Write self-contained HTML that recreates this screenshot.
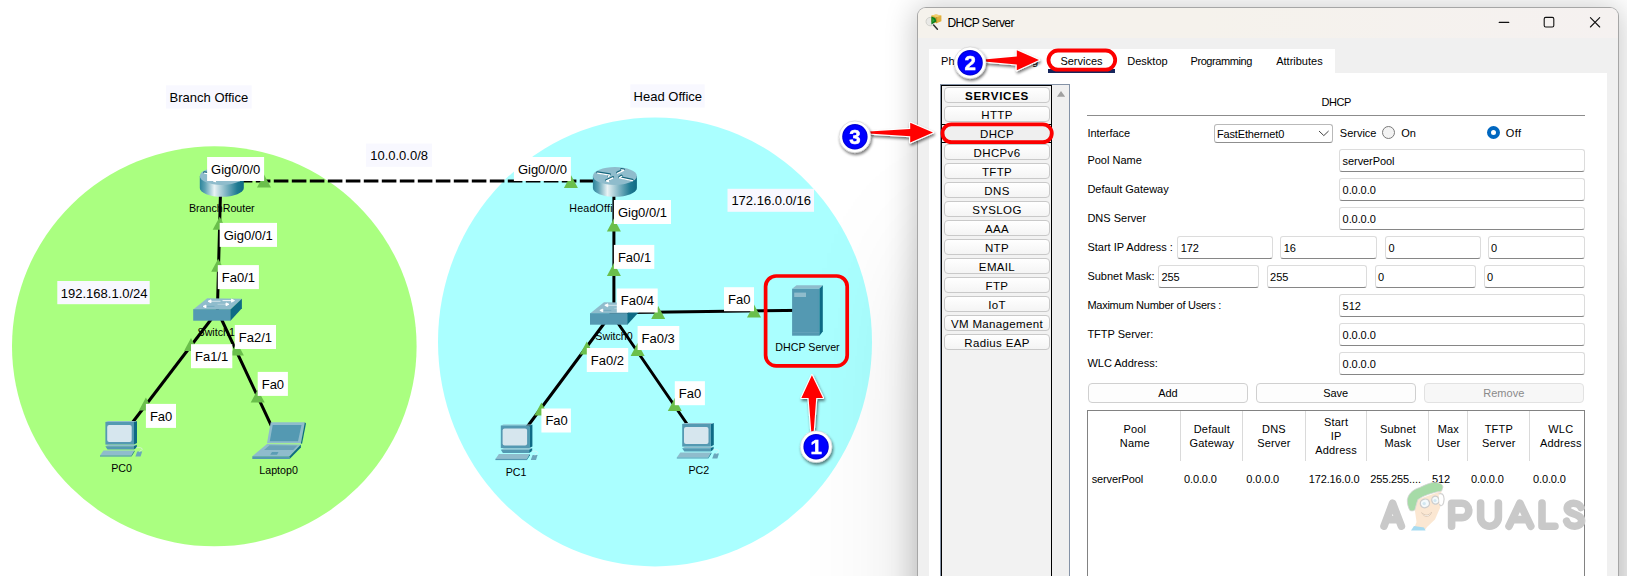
<!DOCTYPE html>
<html><head><meta charset="utf-8"><title>DHCP Server</title>
<style>
html,body{margin:0;padding:0;background:#fff;}
body{width:1627px;height:576px;overflow:hidden;position:relative;font-family:"Liberation Sans",sans-serif;}
svg{position:absolute;left:0;top:0;}
svg text{font-family:"Liberation Sans",sans-serif;}
.win{position:absolute;left:917px;top:7px;width:701px;height:620px;background:#f0f0f0;border:1px solid #a9a9a9;border-radius:8px;box-sizing:border-box;box-shadow:0 6px 38px 4px rgba(0,0,0,0.27),0 0 3px rgba(0,0,0,0.15);overflow:hidden;}
.abs{position:absolute;}
.t11{font-size:11px;color:#000;white-space:nowrap;line-height:13px;}
.inp{position:absolute;height:22.8px;box-sizing:border-box;background:#fff;border:1px solid #dcdcdc;border-bottom:1px solid #868686;border-radius:3px;font-size:11px;line-height:23.6px;letter-spacing:-0.08px;padding-left:2.5px;color:#000;}
.btn{position:absolute;height:20px;box-sizing:border-box;background:#fdfdfd;border:1px solid #d0d0d0;border-radius:4px;font-size:11px;line-height:19px;text-align:center;color:#000;}
.sv{position:absolute;left:26px;width:106px;height:16px;box-sizing:border-box;border:1px solid #c9c9c9;border-radius:4px;background:linear-gradient(#ffffff,#f4f4f4);font-size:11.5px;line-height:17.8px;text-align:center;color:#000;letter-spacing:0.35px;}
.th{position:absolute;top:0;height:50px;box-sizing:border-box;border-right:1px solid #dadada;font-size:11px;line-height:14.1px;text-align:center;display:flex;align-items:center;justify-content:center;color:#000;letter-spacing:0.2px;}
.td{position:absolute;top:66px;font-size:11px;line-height:13px;color:#000;white-space:nowrap;letter-spacing:-0.12px;}
</style></head><body>

<svg width="1627" height="576" viewBox="0 0 1627 576">
<defs>
<linearGradient id="rb" x1="0" x2="1" y1="0" y2="0">
<stop offset="0" stop-color="#2b849b"/><stop offset="0.12" stop-color="#5fa3b5"/><stop offset="0.33" stop-color="#e9f3f5"/><stop offset="0.6" stop-color="#7db3c2"/><stop offset="0.85" stop-color="#1f7a92"/><stop offset="1" stop-color="#0e6a82"/>
</linearGradient>
<g id="router">
<path d="M-22 0 L-22 12 A22 8.8 0 0 0 22 12 L22 0 Z" fill="url(#rb)"/>
<ellipse cx="0" cy="0" rx="22" ry="9" fill="#8fbccc"/>
<g stroke="#14657c" stroke-width="2.4" fill="none" stroke-linecap="round" stroke-linejoin="round">
<path d="M-17.5 -3.6 L-5 -1.6 L-6.5 0"/><path d="M4.5 1.2 L17.5 3.9 M6.5 -0.2 L4.5 1.2"/><path d="M2.5 -3.4 L9 -6.4 L6.5 -6.8"/><path d="M-8.5 4.3 L-2 1.3 M-8.5 4.3 L-6 4.8"/>
</g>
<g stroke="#ffffff" stroke-width="1.4" fill="none" stroke-linecap="round" stroke-linejoin="round">
<path d="M-17.5 -2.9 L-5 -0.9 L-6.5 0.7"/><path d="M4.5 1.9 L17.5 4.6 M6.5 0.5 L4.5 1.9"/><path d="M2.5 -2.7 L9 -5.7 L6.5 -6.1"/><path d="M-8.5 5 L-2 2 M-8.5 5 L-6 5.5"/>
</g>
</g>
<g id="switch">
<path d="M-24.3 0 L-10.3 -11.4 L24.4 -10.9 L13 0 Z" fill="#8fbccc"/>
<rect x="-24.3" y="-0.4" width="37.6" height="11.5" fill="#5499b2"/>
<path d="M13 0 L24.4 -10.9 L24.4 -1.4 L13 11.1 Z" fill="#0e6a85"/>
<g stroke="#fff" stroke-width="0.9" fill="#fff">
<path d="M-9 -8.3 L3 -8.3" stroke="#dbe9ee"/><path d="M5 -9 L16 -9"/><path d="M-15 -3.2 L-3 -3.2" stroke="#6fa9bd"/><path d="M0 -5.3 L10 -5.3" stroke="#b5d2dc"/>
<path d="M-9.5 -8.3 l3 -1.5 l0 3 z"/><path d="M17 -9 l-3 -1.6 l0 3.2 z"/><path d="M-14.5 -3.2 l3 -1.3 l0 2.6 z"/><path d="M11.5 -5.3 l-3 -1.4 l0 2.8 z"/>
</g>
</g>
<g id="pc">
<path d="M13 -16 L16 -17 L16 5 L13 6.6 Z" fill="#0e6a85"/>
<path d="M-15.6 -16 L-13 -17 L16 -17 L13 -16 Z" fill="#8fbccc"/>
<rect x="-15.6" y="-16" width="28.6" height="22.6" fill="#5499b2"/>
<rect x="-13.8" y="-13.1" width="24.5" height="17.2" rx="2" fill="#d6e6ee"/>
<path d="M-15.6 8.2 L-12.6 6.8 L15.8 6.8 L12.8 8.2 Z" fill="#8fbccc"/>
<path d="M-15.6 8.2 L12.8 8.2 L12.8 11.4 L-13.5 11.4 Z" fill="#5499b2"/>
<path d="M12.8 8.2 L15.8 6.8 L15.8 9.4 L12.8 11.4 Z" fill="#0e6a85"/>
<path d="M-17.5 12.6 L13.5 12.6 L10.5 17.4 L-21 17.4 Z" fill="#8fbccc"/>
<path d="M-21 17.4 L10.5 17.4 L10.5 18.6 L-21 18.6 Z" fill="#5499b2"/>
<path d="M10.5 17.4 L13.5 12.6 L13.5 13.8 L10.5 18.6 Z" fill="#0e6a85"/>
<path d="M16.2 13.4 L21.2 13.4 L19.6 18.6 L14.4 18.6 Z" fill="#6aa6bb"/>
<path d="M18.5 14.2 C19 11.5 22.5 12.5 21 10.5 C19.5 9 16 10 15 9.5" fill="none" stroke="#e6f0f4" stroke-width="0.6"/>
</g>
<g id="laptop">
<path d="M-7.3 -17.7 L26.8 -17.7 L22.9 3.2 L-11 3.2 Z" fill="#8fbccc"/>
<path d="M26.8 -17.7 L28 -16.5 L24 4 L22.9 3.2 Z" fill="#0e6a85"/>
<path d="M-5.3 -15.1 L23.5 -15.1 L20 1.2 L-8.2 1.2 Z" fill="#5499b2"/>
<path d="M-11 4 L22.9 4.6 L11.6 16.2 L-25.7 16.2 Z" fill="#8fbccc"/>
<path d="M-8.5 5.2 L19.5 5.6 L15.2 10 L-14 10 Z" fill="#6aa3b8"/>
<path d="M-25.7 16.2 L11.6 16.2 L11.6 19 L-25.7 19 Z" fill="#5499b2"/>
<path d="M11.6 16.2 L22.9 4.6 L22.9 7.5 L11.6 19 Z" fill="#0e6a85"/>
<path d="M-6 12 L0.5 12 L-1 14.8 L-7.8 14.8 Z" fill="#5a9db4"/>
</g>
<g id="server">
<path d="M-15.3 -21.8 L-10.9 -25.3 L15.4 -25.3 L12 -21.8 Z" fill="#8fbccc"/>
<rect x="-15.3" y="-21.8" width="27.3" height="46.9" fill="#5499b2"/>
<path d="M12 -21.8 L15.4 -25.3 L15.4 21 L12 25.1 Z" fill="#0e6a85"/>
<rect x="-13.2" y="-18" width="11.8" height="4.4" fill="#8fbccc"/>
<path d="M-15.3 21.9 L12 21.9" stroke="#67a5bb" stroke-width="0.7"/>
</g>
<path id="tri" d="M0 0 L7 13 L-7 13 Z" fill="#6abf4b"/>
</defs>
<ellipse cx="214.3" cy="346.3" rx="202.3" ry="200" fill="#aaff80"/>
<ellipse cx="655" cy="341.9" rx="217" ry="224.5" fill="#aaffff"/>
<rect x="166" y="85.3" width="85.7" height="23.3" fill="#f8f8ff"/>
<text x="169.6" y="101.8" font-size="13">Branch Office</text>
<rect x="630.3" y="84.3" width="74.4" height="23.3" fill="#f8f8ff"/>
<text x="633.6" y="100.8" font-size="13">Head Office</text>
<rect x="366" y="143.6" width="66" height="23.2" fill="#f8f8ff"/>
<text x="370.2" y="160.2" font-size="13">10.0.0.0/8</text>
<rect x="57.3" y="281" width="92.4" height="23.2" fill="#f8f8ff"/>
<text x="60.8" y="297.6" font-size="13">192.168.1.0/24</text>
<rect x="727.5" y="188.8" width="86.5" height="23" fill="#f8f8ff"/>
<text x="731.4" y="204.9" font-size="13">172.16.0.0/16</text>
<text x="221.8" y="211.6" font-size="10.67" text-anchor="middle">BranchRouter</text>
<text x="613.4" y="211.7" font-size="10.67" text-anchor="middle" letter-spacing="0.2">HeadOfficeRouter</text>
<text x="216.2" y="336.3" font-size="10.67" text-anchor="middle">Switch1</text>
<text x="614" y="339.8" font-size="10.67" text-anchor="middle">Switch0</text>
<text x="121.6" y="471.6" font-size="10.67" text-anchor="middle">PC0</text>
<text x="278.6" y="473.7" font-size="10.67" text-anchor="middle">Laptop0</text>
<text x="516" y="475.5" font-size="10.67" text-anchor="middle">PC1</text>
<text x="698.8" y="473.5" font-size="10.67" text-anchor="middle">PC2</text>
<text x="807.5" y="350.7" font-size="10.67" text-anchor="middle">DHCP Server</text>
<g stroke="#000" stroke-width="3" stroke-linecap="round" fill="none">
<path d="M221.8 181 L615 181" stroke-dasharray="14.6 3.4" stroke-dashoffset="2" stroke-linecap="butt" stroke-linejoin="round"/>
<path d="M220.8 181 L217.4 310"/>
<path d="M217.5 311 L121 437.5"/>
<path d="M217.6 311 L278 440"/>
<path d="M613.9 181 L613.9 313"/>
<path d="M613 312.7 L807 310.2"/>
<path d="M613 311.5 L516.7 441"/>
<path d="M611 313 L698 440"/>
</g>
<use href="#router" x="221.8" y="176"/>
<use href="#router" x="614.9" y="176"/>
<use href="#switch" x="217.5" y="309.6"/>
<use href="#switch" x="614.3" y="313.6"/>
<use href="#pc" x="121" y="438"/>
<use href="#pc" x="516.4" y="441.5"/>
<use href="#pc" x="697.8" y="440"/>
<use href="#laptop" x="278" y="440"/>
<use href="#server" x="807.4" y="310.6"/>
<use href="#tri" x="264" y="174.6"/>
<use href="#tri" x="570.9" y="175"/>
<use href="#tri" x="219.7" y="216.8"/>
<use href="#tri" x="218.2" y="258.8"/>
<use href="#tri" x="236.9" y="342.6"/>
<use href="#tri" x="191" y="337.9"/>
<use href="#tri" x="257.7" y="389.5"/>
<use href="#tri" x="145.9" y="397.5"/>
<use href="#tri" x="613.9" y="218.5"/>
<use href="#tri" x="613.9" y="263"/>
<use href="#tri" x="658.2" y="306"/>
<use href="#tri" x="754" y="304.6"/>
<use href="#tri" x="637.6" y="343"/>
<use href="#tri" x="586.8" y="341.5"/>
<use href="#tri" x="541.4" y="402.6"/>
<use href="#tri" x="674.8" y="398"/>
<rect x="207.1" y="157" width="57" height="24" fill="#fff"/>
<text x="211.1" y="173.8" font-size="13">Gig0/0/0</text>
<rect x="219.7" y="222.9" width="57.3" height="24" fill="#fff"/>
<text x="223.7" y="239.7" font-size="13">Gig0/0/1</text>
<rect x="217.8" y="265.1" width="41.1" height="24" fill="#fff"/>
<text x="221.8" y="281.9" font-size="13">Fa0/1</text>
<rect x="234.8" y="325" width="41.2" height="24" fill="#fff"/>
<text x="238.8" y="341.8" font-size="13">Fa2/1</text>
<rect x="191" y="344.2" width="41.3" height="24" fill="#fff"/>
<text x="195" y="361.0" font-size="13">Fa1/1</text>
<rect x="257.7" y="371.9" width="30.2" height="24" fill="#fff"/>
<text x="261.7" y="388.7" font-size="13">Fa0</text>
<rect x="145.9" y="403.9" width="30.1" height="24" fill="#fff"/>
<text x="149.9" y="420.7" font-size="13">Fa0</text>
<rect x="513.9" y="157" width="57" height="24" fill="#fff"/>
<text x="517.9" y="173.8" font-size="13">Gig0/0/0</text>
<rect x="613.9" y="200" width="57.1" height="24" fill="#fff"/>
<text x="617.9" y="216.8" font-size="13">Gig0/0/1</text>
<rect x="613.9" y="244.9" width="40.4" height="24" fill="#fff"/>
<text x="617.9" y="261.7" font-size="13">Fa0/1</text>
<rect x="616.8" y="288.5" width="40.9" height="24" fill="#fff"/>
<text x="620.8" y="305.3" font-size="13">Fa0/4</text>
<rect x="724" y="287.2" width="30" height="24" fill="#fff"/>
<text x="728" y="304.0" font-size="13">Fa0</text>
<rect x="637.6" y="326" width="41.7" height="24" fill="#fff"/>
<text x="641.6" y="342.8" font-size="13">Fa0/3</text>
<rect x="586.8" y="348" width="41.4" height="24" fill="#fff"/>
<text x="590.8" y="364.8" font-size="13">Fa0/2</text>
<rect x="541.4" y="408.5" width="29.5" height="24" fill="#fff"/>
<text x="545.4" y="425.3" font-size="13">Fa0</text>
<rect x="674.8" y="381.2" width="30.1" height="24" fill="#fff"/>
<text x="678.8" y="398.0" font-size="13">Fa0</text>
</svg><div class="win" style="left:918px;top:8px;width:700px;height:600px;border:none;box-shadow:0 0 0 1px #a6a6a6,0 2px 30px 3px rgba(0,0,0,0.22),0 220px 130px -40px rgba(0,0,0,0.26);">
<div class="abs" style="left:0;top:0;width:700px;height:29.5px;background:linear-gradient(90deg,#f5f2ec 0%,#f5f2ec 40%,#f5f1f0 100%);"></div>
<svg class="abs" style="left:6px;top:4px;" width="22" height="22" viewBox="0 0 22 22">
<circle cx="6.2" cy="9.6" r="4.2" fill="#e9e9e6" stroke="#c9c9c4" stroke-width="0.8"/>
<path d="M9.6 13 L13.4 17.3" stroke="#333" stroke-width="1.5" stroke-linecap="round"/>
<path d="M7.4 3.6 L12 2.4 L17.4 3.4 L17.4 9.2 L12.6 11.2 L7.4 10 Z" fill="#e0b040"/>
<path d="M7.4 3.6 L12.6 5.2 L17.4 3.4 L12 2.4 Z" fill="#f2d070"/>
<path d="M12.6 5.2 L12.6 11.2" stroke="#a87c20" stroke-width="0.6"/>
<path d="M7.4 4.6 L11.4 6 L12.4 9.6 L7.4 12.4 Z" fill="#0b7d1c"/><path d="M8.4 6 L10.6 8.4 L8.4 10.6 Z" fill="#2fae3c"/>
</svg>
<div class="abs" style="left:29.5px;top:7.5px;font-size:12px;line-height:14px;letter-spacing:-0.55px;color:#000;white-space:nowrap;">DHCP Server</div>
<svg class="abs" style="left:570px;top:0;" width="130" height="30" viewBox="0 0 130 30">
<g stroke="#111" stroke-width="1.1" fill="none" stroke-linecap="round">
<path d="M11.2 14.4 L20.8 14.4"/>
<rect x="56.2" y="9.4" width="9.6" height="9.6" rx="1.5"/>
<path d="M102.4 9.7 L111.7 19 M111.7 9.7 L102.4 19"/>
</g></svg>
<div class="abs" style="left:11.2px;top:41.2px;width:405.4px;height:24px;background:#fff;"></div>
<div class="abs" style="left:11.2px;top:64.9px;width:677.8px;height:540px;background:#fff;"></div>
<div class="abs" style="left:130px;top:60.7px;width:66.8px;height:4.2px;background:#16265c;"></div>
<div class="abs t11" style="left:23.1px;top:46.9px;">Physical</div>
<div class="abs t11" style="left:88.3px;top:46.9px;">Config</div>
<div class="abs t11" style="left:142.4px;top:46.9px;">Services</div>
<div class="abs t11" style="left:209.3px;top:46.9px;">Desktop</div>
<div class="abs t11" style="left:272.5px;top:46.9px;letter-spacing:-0.42px;">Programming</div>
<div class="abs t11" style="left:358.2px;top:46.9px;">Attributes</div>
<div class="abs" style="left:22px;top:76px;width:130px;height:540px;box-sizing:border-box;border:1px solid #8492a6;background:#f0f0f0;"></div>
<div class="abs" style="left:23px;top:77px;width:111.2px;height:540px;box-sizing:border-box;border:1.2px solid #000;background:#f2f2f2;"></div>
<svg class="abs" style="left:137px;top:80px;" width="12" height="10" viewBox="0 0 12 10"><path d="M6 2.9 L10.2 8.7 L1.9 8.7 Z" fill="#a0a0a0"/></svg>
<div class="abs" style="left:23px;top:116px;width:111.2px;height:19px;box-sizing:border-box;border:1px solid #000;background:#f0f0f0;"></div>
<div class="sv" style="top:79.4px;font-weight:bold;letter-spacing:0.7px;font-size:11.6px;line-height:16.4px;">SERVICES</div>
<div class="sv" style="top:98.4px;">HTTP</div>
<div class="sv" style="top:117.4px;background:#efefef;border-color:#e6e6e6;">DHCP</div>
<div class="sv" style="top:136.4px;">DHCPv6</div>
<div class="sv" style="top:155.4px;">TFTP</div>
<div class="sv" style="top:174.4px;">DNS</div>
<div class="sv" style="top:193.4px;">SYSLOG</div>
<div class="sv" style="top:212.4px;">AAA</div>
<div class="sv" style="top:231.4px;">NTP</div>
<div class="sv" style="top:250.4px;">EMAIL</div>
<div class="sv" style="top:269.4px;">FTP</div>
<div class="sv" style="top:288.4px;">IoT</div>
<div class="sv" style="top:307.4px;">VM Management</div>
<div class="sv" style="top:326.4px;">Radius EAP</div>
<div class="abs t11" style="left:403.6px;top:87.9px;letter-spacing:-0.5px;">DHCP</div>
<div class="abs" style="left:169px;top:107px;width:498.3px;height:1px;background:#8c8c8c;"></div>
<div class="abs t11" style="left:169.4px;top:118.6px;">Interface</div>
<div class="abs t11" style="left:169.4px;top:145.9px;">Pool Name</div>
<div class="abs t11" style="left:169.4px;top:174.9px;">Default Gateway</div>
<div class="abs t11" style="left:169.4px;top:203.9px;">DNS Server</div>
<div class="abs t11" style="left:169.4px;top:232.9px;">Start IP Address :</div>
<div class="abs t11" style="left:169.4px;top:261.9px;">Subnet Mask:</div>
<div class="abs t11" style="left:169.4px;top:290.9px;letter-spacing:-0.25px;">Maximum Number of Users :</div>
<div class="abs t11" style="left:169.4px;top:319.9px;">TFTP Server:</div>
<div class="abs t11" style="left:169.4px;top:348.9px;">WLC Address:</div>
<div class="abs" style="left:295.6px;top:116.2px;width:119.2px;height:18.8px;box-sizing:border-box;background:#fff;border:1px solid #b9b9b9;border-bottom-color:#8f8f8f;border-radius:3px;font-size:11px;line-height:19.6px;padding-left:2.4px;letter-spacing:-0.15px;">FastEthernet0</div>
<svg class="abs" style="left:400px;top:121px;" width="12" height="9" viewBox="0 0 12 9"><path d="M1 2 L5.8 6.6 L10.6 2" fill="none" stroke="#444" stroke-width="1"/></svg>
<div class="abs t11" style="left:421.8px;top:119.2px;">Service</div>
<div class="abs" style="left:463.8px;top:117.8px;width:13.6px;height:13.6px;box-sizing:border-box;border:1px solid #7a7a7a;border-radius:50%;background:#f3f3f3;"></div>
<div class="abs t11" style="left:483.2px;top:119.2px;">On</div>
<div class="abs" style="left:568.6px;top:117.8px;width:13.6px;height:13.6px;box-sizing:border-box;border:4.2px solid #0067c0;border-radius:50%;background:#fff;"></div>
<div class="abs t11" style="left:587.8px;top:119.2px;letter-spacing:0.4px;">Off</div>
<div class="inp" style="left:421.1px;top:141.3px;width:245.5px;">serverPool</div>
<div class="inp" style="left:421.1px;top:170.3px;width:245.5px;">0.0.0.0</div>
<div class="inp" style="left:421.1px;top:199.3px;width:245.5px;">0.0.0.0</div>
<div class="inp" style="left:421.1px;top:286.3px;width:245.5px;">512</div>
<div class="inp" style="left:421.1px;top:315.3px;width:245.5px;">0.0.0.0</div>
<div class="inp" style="left:421.1px;top:344.3px;width:245.5px;">0.0.0.0</div>
<div class="inp" style="left:259.2px;top:228.3px;width:96.3px;">172</div>
<div class="inp" style="left:362.3px;top:228.3px;width:97px;">16</div>
<div class="inp" style="left:467px;top:228.3px;width:95.8px;">0</div>
<div class="inp" style="left:569.5px;top:228.3px;width:97.1px;">0</div>
<div class="inp" style="left:240px;top:257.3px;width:101.3px;">255</div>
<div class="inp" style="left:348.6px;top:257.3px;width:100.4px;">255</div>
<div class="inp" style="left:456.6px;top:257.3px;width:101.2px;">0</div>
<div class="inp" style="left:565.5px;top:257.3px;width:101.1px;">0</div>
<div class="btn" style="left:170.2px;top:374.5px;width:159.5px;">Add</div>
<div class="btn" style="left:337.8px;top:374.5px;width:159.8px;">Save</div>
<div class="btn" style="left:505.9px;top:374.5px;width:159.8px;color:#8a8a8a;background:#f7f7f7;border-color:#e2e2e2;">Remove</div>
<div class="abs" style="left:169.4px;top:402.4px;width:498px;height:220px;box-sizing:border-box;border:1px solid #828282;background:#fff;overflow:hidden;">
<div class="th" style="left:0.9px;width:92.1px;">Pool<br>Name</div>
<div class="th" style="left:93.0px;width:61.9px;">Default<br>Gateway</div>
<div class="th" style="left:154.9px;width:62.3px;">DNS<br>Server</div>
<div class="th" style="left:217.20000000000002px;width:61.9px;">Start<br>IP<br>Address</div>
<div class="th" style="left:279.09999999999997px;width:61.9px;">Subnet<br>Mask</div>
<div class="th" style="left:341.0px;width:39px;">Max<br>User</div>
<div class="th" style="left:380.0px;width:61.9px;">TFTP<br>Server</div>
<div class="th" style="left:441.9px;width:62px;">WLC<br>Address</div>
<div class="td" style="left:3.3px;top:61.4px;">serverPool</div>
<div class="td" style="left:95.6px;top:61.4px;">0.0.0.0</div>
<div class="td" style="left:157.9px;top:61.4px;">0.0.0.0</div>
<div class="td" style="left:220.3px;top:61.4px;">172.16.0.0</div>
<div class="td" style="left:281.8px;top:61.4px;">255.255....</div>
<div class="td" style="left:343.6px;top:61.4px;">512</div>
<div class="td" style="left:382.6px;top:61.4px;">0.0.0.0</div>
<div class="td" style="left:444.6px;top:61.4px;">0.0.0.0</div>
</div>
</div><svg width="1627" height="576" viewBox="0 0 1627 576" style="z-index:5">
<defs>
<filter id="sh" x="-30%" y="-30%" width="160%" height="170%"><feGaussianBlur in="SourceAlpha" stdDeviation="1.6"/><feOffset dx="0.8" dy="1.8"/><feComponentTransfer><feFuncA type="linear" slope="0.55"/></feComponentTransfer><feMerge><feMergeNode/><feMergeNode in="SourceGraphic"/></feMerge></filter>
<radialGradient id="bl" cx="0.5" cy="0.5" r="0.5"><stop offset="0" stop-color="#0000ff"/><stop offset="0.86" stop-color="#0000ff"/><stop offset="1" stop-color="#0000c8"/></radialGradient>
</defs>
<g fill="none" stroke="#c9c9c9" stroke-width="7.6" stroke-linejoin="round" stroke-linecap="round">
<path d="M1384 526.2 L1392.6 503.2 L1401.4 526.2 M1388.2 519.6 L1397 519.6"/>
<path d="M1451.6 526.2 L1451.6 503.2 L1461.6 503.2 A7.2 7.2 0 0 1 1461.6 517.6 L1451.6 517.6"/>
<path d="M1480.6 503 L1480.6 517.3 A8.9 8.9 0 0 0 1498.4 517.3 L1498.4 503"/>
<path d="M1509 526.2 L1519.9 503.2 L1530.8 526.2 M1514 519.6 L1525.8 519.6"/>
<path d="M1542 503 L1542 526.2 L1555 526.2"/>
<path d="M1581 507.5 C1579 502 1567.5 501.5 1567.2 508.2 C1567 515 1581.5 513 1581.6 520.6 C1581.8 528 1568.5 528 1566.6 521.2"/>
</g>
<g opacity="0.92">
<path d="M1417.5 499.5 L1441.5 491 L1440 508 L1435 519.5 L1427 527 L1425 530 L1413.5 530 L1416.5 522 L1414.8 510 Z" fill="#fbe6cf"/>
<path d="M1411 530.5 L1414 526 L1424 527.5 L1425.5 530.5 Z" fill="#9fd8f0"/>
<path d="M1407.4 499.3 C1409 492 1415 489 1419.8 487.5 C1426 484.5 1431 482.3 1434.6 482.3 C1439 482.6 1443.5 484.5 1442.8 487.5 L1441.6 491 C1433 492.5 1424 495 1417.8 499.6 C1416.5 503 1415.8 507 1414.8 510 C1413 511.2 1411 511 1409.9 510.4 C1408 507 1407 503 1407.4 499.3 Z" fill="#9fd8a0" stroke="#cfcfcf" stroke-width="0.8"/>
<ellipse cx="1424.9" cy="503.4" rx="4.6" ry="4.3" fill="#f4fafc" stroke="#c9c9c9" stroke-width="1.3" transform="rotate(-20 1424.9 503.4)"/>
<ellipse cx="1435.4" cy="500.2" rx="3.6" ry="4" fill="#f4fafc" stroke="#c9c9c9" stroke-width="1.3" transform="rotate(-20 1435.4 500.2)"/>
<path d="M1438.6 494 C1443.5 492 1445 497 1443.5 503 C1442.5 506.5 1439.8 506.5 1439.6 504" fill="#fff" stroke="#cfcfcf" stroke-width="1.2"/>
<circle cx="1424.2" cy="503.6" r="1.7" fill="#cfe6f0"/><circle cx="1435" cy="500.6" r="1.6" fill="#cfe6f0"/>
<path d="M1421.6 512.6 C1424.5 515.6 1428.5 516 1431.6 512.2 C1430.6 516.8 1424.6 518.6 1421.6 512.6 Z" fill="#fff" stroke="#d9c3ae" stroke-width="0.9"/>
</g>
<rect x="765.6" y="276" width="81.6" height="89.8" rx="10.5" fill="none" stroke="#fc0000" stroke-width="3.7"/>
<rect x="1048.5" y="50.5" width="66.7" height="19.1" rx="9.5" fill="none" stroke="#fc0000" stroke-width="3.8"/>
<rect x="942.5" y="124.4" width="109.3" height="17.8" rx="8.9" fill="none" stroke="#fc0000" stroke-width="3.8"/>
<path d="M984 59.6 L1016.8 56.4 L1016.8 50.2 L1039 60.1 L1016.8 70.3 L1016.8 64.5 L984 61.6 Z" fill="#ff0000" stroke="#fff" stroke-width="2.2" stroke-linejoin="round" paint-order="stroke" filter="url(#sh)"/>
<path d="M869 131.6 L910.2 128.9 L910.2 122.8 L933 132.6 L910.2 142.4 L910.2 136.2 L869 133.6 Z" fill="#ff0000" stroke="#fff" stroke-width="2.2" stroke-linejoin="round" paint-order="stroke" filter="url(#sh)"/>
<path d="M811.4 433 L808.6 397.9 L801.4 397.9 L811.9 375.2 L823 397.9 L816.2 397.9 L813.6 433 Z" fill="#ff0000" stroke="#fff" stroke-width="2.2" stroke-linejoin="round" paint-order="stroke" filter="url(#sh)"/>
<g filter="url(#sh)"><circle cx="970.1" cy="62.8" r="15.9" fill="#fff" stroke="#c4c4c4" stroke-width="0.5"/><circle cx="970.1" cy="62.8" r="12.7" fill="url(#bl)"/><text x="970.1" y="70.2" text-anchor="middle" font-size="20.5" font-weight="bold" fill="#fff" stroke="#fff" stroke-width="0.5">2</text></g>
<g filter="url(#sh)"><circle cx="854.9" cy="136.8" r="15.9" fill="#fff" stroke="#c4c4c4" stroke-width="0.5"/><circle cx="854.9" cy="136.8" r="12.7" fill="url(#bl)"/><text x="854.9" y="144.20000000000002" text-anchor="middle" font-size="20.5" font-weight="bold" fill="#fff" stroke="#fff" stroke-width="0.5">3</text></g>
<g filter="url(#sh)"><circle cx="816.1" cy="446.7" r="15.9" fill="#fff" stroke="#c4c4c4" stroke-width="0.5"/><circle cx="816.1" cy="446.7" r="12.7" fill="url(#bl)"/><text x="816.1" y="454.09999999999997" text-anchor="middle" font-size="20.5" font-weight="bold" fill="#fff" stroke="#fff" stroke-width="0.5">1</text></g>
</svg></body></html>
